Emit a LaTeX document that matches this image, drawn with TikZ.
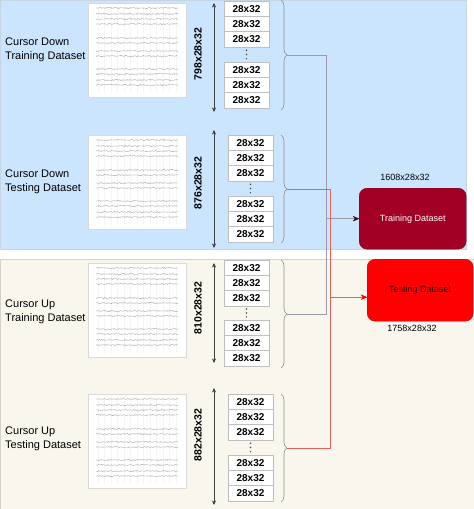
\documentclass[tikz,border=0pt]{standalone}
\usepackage{fontspec}
\setmainfont{Liberation Sans}
\usetikzlibrary{decorations.pathreplacing,decorations.pathmorphing,arrows.meta,calc}
\definecolor{bgblue}{HTML}{CCE5FF}
\definecolor{bgbeige}{HTML}{F9F7ED}
\definecolor{trainred}{HTML}{A20025}
\definecolor{testred}{HTML}{FF0000}
\definecolor{bracegray}{HTML}{8C8C8C}
\definecolor{conngray}{HTML}{9A9AA8}
\definecolor{connred}{HTML}{E86060}
\definecolor{headdark}{HTML}{3A0A10}
\tikzset{
 cell/.style={draw=black!25, fill=white, minimum width=45pt, minimum height=15.3pt, inner sep=0pt, font=\bfseries\fontsize{10}{12}\selectfont},
 panel/.style={draw=black!15, fill=white, minimum width=98pt, minimum height=94pt, inner sep=0pt, anchor=north west},
 wave/.style={draw=black!45, line width=0.3pt, decorate, decoration={random steps, segment length=0.9pt, amplitude=0.45pt}},
 dimlabel/.style={rotate=90, font=\bfseries\fontsize{10.5}{12}\selectfont, inner sep=0pt},
 dimarrow/.style={{Stealth[length=4.5pt,width=4pt]}-{Stealth[length=4.5pt,width=4pt]}, line width=0.5pt, draw=black!75},
 setlabel/.style={align=left, anchor=west, font=\fontsize{11}{14}\selectfont, inner sep=0pt},
 curly/.style={draw=bracegray, line width=0.6pt, decorate, decoration={brace, amplitude=6pt}},
 grayconn/.style={draw=conngray, line width=0.6pt, -{Stealth[length=6pt,width=5pt,color=headdark]}},
 redconn/.style={draw=connred, line width=0.6pt, -{Stealth[length=6pt,width=5pt,color=testred]}},
 bigbox/.style={rounded corners=8pt, minimum width=107pt, minimum height=61pt, inner sep=0pt, font=\fontsize{9}{11}\selectfont},
 sizelabel/.style={font=\fontsize{9}{11}\selectfont, inner sep=0pt},
}
\newcommand{\cellstack}[4]{%
 \foreach \i in {0,1,2} {
   \node[cell] (#1u\i) at (#2,{#3+7.65+15.3*\i}) {28x32};
   \node[cell] (#1l\i) at (#2,{#4+7.65+15.3*\i}) {28x32};
 }
 \foreach \d in {0.22,0.5,0.78} {
   \fill[black!70] (#2,{#3+45.9+\d*(#4-#3-45.9)}) circle (0.8pt);
 }
}
\newcommand{\eegpanel}[3]{%
 \node[panel] (#1) at (#2,#3) {};
 \foreach \gx in {0,...,12} {
   \draw[black!4, line width=0.3pt] ({#2+10+6.5*\gx},{#3+3}) -- ({#2+10+6.5*\gx},{#3+90});
 }
 \foreach \ry in {5,11,16,21,35,40,48,53,66,71,77,82} {
   \draw[wave] ({#2+8},{#3+\ry}) -- ({#2+90},{#3+\ry});
 }
}
\begin{document}
\begin{tikzpicture}[x=1pt,y=-1pt]
\pgfmathsetseed{7}
\useasboundingbox (0,0) rectangle (474,509);
% backgrounds
\fill[white] (0,0) rectangle (474,509);
\filldraw[fill=bgblue, draw=bgblue!85!black!70] (0,0) rectangle (466,249);
\filldraw[fill=bgbeige, draw=bgbeige!85!black] (0,259) rectangle (474,509);
% set labels
\node[setlabel] (l1) at (5,50) {Cursor Down\\Training Dataset};
\node[setlabel] (l2) at (5,182) {Cursor Down\\Testing Dataset};
\node[setlabel] (l3) at (5,312) {Cursor Up\\Training Dataset};
\node[setlabel] (l4) at (5,439) {Cursor Up\\Testing Dataset};
% eeg panels
\eegpanel{p1}{88}{3}
\eegpanel{p2}{88}{135}
\eegpanel{p3}{88}{263}
\eegpanel{p4}{88}{394}
% dimension labels and arrows
\node[dimlabel] (d1) at (198,54) {798x28x32};
\node[dimlabel] (d2) at (198,183) {876x28x32};
\node[dimlabel] (d3) at (198,308) {810x28x32};
\node[dimlabel] (d4) at (198,435) {882x28x32};
\coordinate (a1t) at (214,3);   \coordinate (a1b) at (214,112);
\coordinate (a2t) at (214,130); \coordinate (a2b) at (214,248);
\coordinate (a3t) at (214,263); \coordinate (a3b) at (214,363);
\coordinate (a4t) at (214,388); \coordinate (a4b) at (214,505);
\draw[dimarrow] (a1t) -- (a1b);
\draw[dimarrow] (a2t) -- (a2b);
\draw[dimarrow] (a3t) -- (a3b);
\draw[dimarrow] (a4t) -- (a4b);
% stacks
\cellstack{s1}{246.5}{1}{62}
\cellstack{s2}{250.5}{135}{196}
\cellstack{s3}{246.5}{260}{320}
\cellstack{s4}{250.5}{394}{455}
% braces
\coordinate (b1top) at (281,0);   \coordinate (b1bot) at (281,110); \coordinate (b1tip) at (287,55);
\coordinate (b2top) at (281,135); \coordinate (b2bot) at (281,243); \coordinate (b2tip) at (287,189);
\coordinate (b3top) at (281,260); \coordinate (b3bot) at (281,368); \coordinate (b3tip) at (287,314);
\coordinate (b4top) at (281,394); \coordinate (b4bot) at (281,502); \coordinate (b4tip) at (287,448);
\draw[curly] (b1top) -- (b1bot);
\draw[curly] (b2top) -- (b2bot);
\draw[curly] (b3top) -- (b3bot);
\draw[curly] (b4top) -- (b4bot);
% result boxes
\node[bigbox, fill=trainred, draw=trainred!80!black, text=white, anchor=north west] (train) at (359,188) {Training Dataset};
\node[bigbox, fill=testred, draw=testred!80!black, text=black!80!red, anchor=north west, minimum width=106pt, minimum height=62pt] (test) at (367,259) {Testing Dataset};
\node[sizelabel] (n1) at (405,177) {1608x28x32};
\node[sizelabel] (n2) at (412,328) {1758x28x32};
% connectors
\coordinate (jtrain) at (326,0);
\coordinate (jtest) at (330,0);
\coordinate (trainin) at (train.west);
\coordinate (testin) at ($(test.west)+(0,7)$);
\draw[grayconn] (b1tip) -| (jtrain |- trainin) -- (trainin);
\draw[grayconn] (b3tip) -| (jtrain |- trainin) -- (trainin);
\draw[redconn] (b2tip) -| (jtest |- testin) -- (testin);
\draw[redconn] (b4tip) -| (jtest |- testin) -- (testin);
\end{tikzpicture}
\end{document}
